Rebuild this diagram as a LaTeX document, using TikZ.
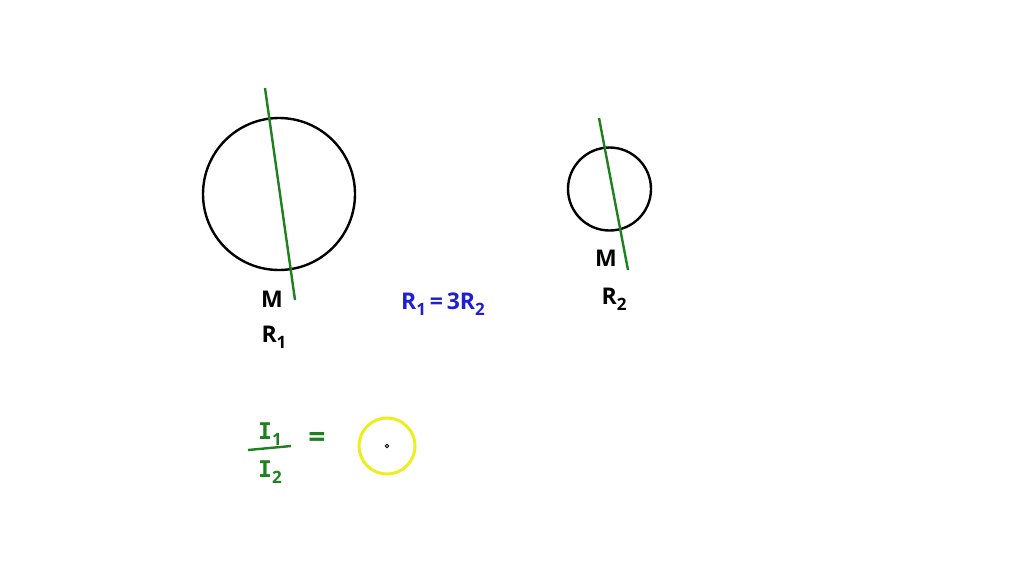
\documentclass[tikz,border=0pt]{standalone}
\usepackage{fontspec}
\setmainfont{Open Sans}
\newfontfamily\monoI{DejaVu Sans Mono}
\definecolor{pgreen}{RGB}{30,128,30}
\definecolor{pblue}{RGB}{30,30,210}
\definecolor{pyellow}{RGB}{238,238,30}
\newcommand{\sbx}[1]{\raisebox{-0.25em}{\fontsize{17}{18}\selectfont #1}}
\begin{document}
\begin{tikzpicture}[x=1pt,y=-1pt,
  ring/.style={draw=black,line width=2.4pt},
  axisline/.style={draw=pgreen,line width=2.4pt},
  lbl/.style={font=\fontsize{23}{25}\selectfont\bfseries,inner sep=0pt},
  glbl/.style={lbl,text=pgreen},
  blbl/.style={lbl,text=pblue}]
\useasboundingbox[fill=white] (0,0) rectangle (1024,576);
% large sphere
\node[ring,circle,minimum size=152pt,inner sep=0pt] (c1) at (279,194) {};
\coordinate (a1) at (265,88);
\coordinate (b1) at (295,300);
\draw[axisline] (a1) -- (b1);
\node[lbl] (m1) at (272,299) {M};
\node[lbl] (r1) at (274,337) {R\sbx{1}};
% small sphere
\node[ring,circle,minimum size=83pt,inner sep=0pt] (c2) at (609.5,189) {};
\coordinate (a2) at (599,118);
\coordinate (b2) at (628,270);
\draw[axisline] (a2) -- (b2);
\node[lbl] (m2) at (606,258) {M};
\node[lbl] (r2) at (614,299) {R\sbx{2}};
% relation
\node[blbl] (rel) at (443,304) {R\sbx{1}\,=\,3R\sbx{2}};
% ratio
\node[glbl] (i1) at (270,434) {{\monoI I}\sbx{1}};
\node[glbl] (i2) at (270,472) {{\monoI I}\sbx{2}};
\coordinate (f1) at (248,450);
\coordinate (f2) at (291,446);
\draw[draw=pgreen,line width=2.4pt] (f1) -- (f2);
\node[glbl,font=\fontsize{30}{30}\selectfont\bfseries] (eq) at (317,440) {=};
\node[circle,draw=pyellow,line width=3pt,minimum size=56pt,inner sep=0pt] (hl) at (387,446) {};
\node[circle,draw=black,line width=0.8pt,minimum size=3.5pt,inner sep=0pt] (dot) at (hl.center) {};
\end{tikzpicture}
\end{document}
